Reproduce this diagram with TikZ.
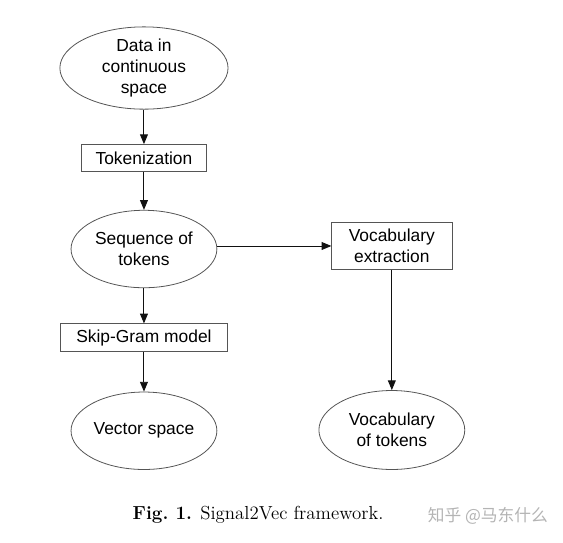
\documentclass[tikz,border=0pt]{standalone}
\usepackage{fontspec}
\newfontfamily\sgsans{Liberation Sans}
\newfontfamily\cjk{Noto Sans CJK SC}
\usetikzlibrary{arrows.meta,positioning,shapes.geometric}
\definecolor{sgLine}{HTML}{555555}
\definecolor{sgArrow}{HTML}{111111}
\definecolor{sgMark}{HTML}{B4B4B4}

\begin{document}
\begin{tikzpicture}[
      font=\sgsans\fontsize{13.1}{15.8}\selectfont,
      box/.style={draw=sgLine,line width=0.6pt,align=center,inner sep=0pt,
                  minimum height=7.1mm,minimum width=33mm},
      ell/.style={ellipse,draw=sgLine,line width=0.6pt,align=center,inner sep=0pt,
                  minimum width=38.6mm,minimum height=20.5mm},
      b/.style={-{Triangle[length=2.6mm,width=2.1mm]},draw=sgArrow,line width=0.7pt},
      lbl/.style={font=\fontsize{14.2}{16}\selectfont}
    ]
    \useasboundingbox (0,0) rectangle (14.90,-14.37);

    \node[ell,minimum width=44.5mm,minimum height=20.9mm] (data) at (3.81,-1.80)
      {Data in\\continuous\\space};
    \node[box] (tok)   at (3.81,-4.18) {Tokenization};
    \node[ell] (seq)   at (3.81,-6.59) {Sequence of\\tokens};
    \node[box,minimum width=44.2mm,minimum height=7.4mm] (skip) at (3.81,-8.94) {Skip-Gram model};
    \node[ell] (vec)   at (3.81,-11.40) {Vector space};

    \node[box,minimum width=31.8mm,minimum height=12.4mm] (vext) at (10.37,-6.51)
      {Vocabulary\\extraction};
    \node[ell,minimum height=20.9mm] (vtok) at (10.37,-11.38) {Vocabulary\\of tokens};

    \draw[b] (data) -- (tok);
    \draw[b] (tok)  -- (seq);
    \draw[b] (seq)  -- (skip);
    \draw[b] (skip) -- (vec);
    \draw[b] (seq.east |- vext) -- (vext);
    \draw[b] (vext) -- (vtok);

    % caption and site mark under the figure
    \node[lbl] (cap) at (6.83,-13.63) {\textbf{Fig.\ 1.} Signal2Vec framework.};
    \node[font=\cjk\fontsize{12.6}{14}\selectfont,text=sgMark] (mark) at (12.91,-13.65)
      {知乎 @马东什么};
\end{tikzpicture}
\end{document}
